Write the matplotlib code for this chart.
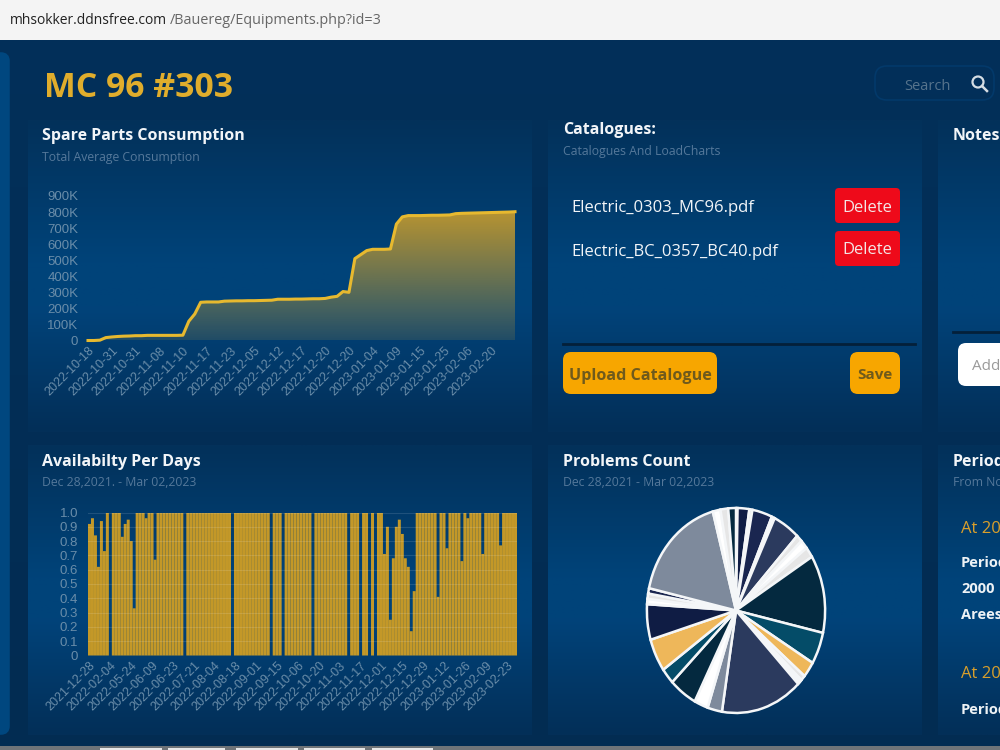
import numpy as np
import matplotlib
matplotlib.use("Agg")
import matplotlib.pyplot as plt
from matplotlib.colors import LinearSegmentedColormap
from matplotlib.patches import FancyBboxPatch, Rectangle, Circle

plt.rcParams['font.family'] = ['Open Sans', 'DejaVu Sans']

# spare parts, in thousands
spare_values = [0, 0, 2, 18, 22, 25, 27, 28, 30, 30, 32, 32, 32, 32, 32, 32, 33, 120,
                165, 238, 240, 240, 240, 245, 246, 247, 247, 248, 248, 249, 250, 251,
                257, 257, 257, 258, 258, 259, 260, 260, 262, 270, 275, 305, 300, 510,
                535, 560, 568, 568, 568, 570, 725, 770, 778, 778, 778, 779, 780, 780,
                781, 782, 790, 792, 793, 794, 795, 796, 797, 798, 799, 800, 802]
spare_labels = ['2022-10-18', '2022-10-31', '2022-10-31', '2022-11-08', '2022-11-10',
                '2022-11-17', '2022-11-23', '2022-12-05', '2022-12-12', '2022-12-17',
                '2022-12-20', '2022-12-20', '2023-01-04', '2023-01-09', '2023-01-15',
                '2023-01-25', '2023-02-06', '2023-02-20']
spare_yticks = [0, 100, 200, 300, 400, 500, 600, 700, 800, 900]

avail_values = [.92, .96, .84, .62, .94, .73, 1, 0, 1, 1, 1, .83,
                .92, .95, .80, .33, 1, 1, 1, .96, 1, 1, .67, 1,
                1, 1, 1, 1, 1, 1, 1, 1, 0, 1, 1, 1,
                1, 1, 1, 1, 1, 1, 1, 1, 1, 1, 1, 1,
                0, 1, 1, 1, 1, 1, 1, 1, 1, 1, 1, 1,
                1, 0, 1, 1, 1, 0, 1, 1, 1, 1, 1, 1,
                1, 1, 1, 0, 1, 1, 1, 1, 1, 1, 1, 1,
                1, 1, 1, 0, 1, 1, 1, 0, 1, 1, 0, 1,
                0, 1, 1, .71, .9, .25, .68, .9, .95, .85, .68, .62,
                .17, .45, 1, 1, 1, 1, 1, 1, 1, .41, 1, 1,
                .75, 1, 1, 1, 1, .66, 1, .96, 1, 1, 1, 1,
                .71, 1, 1, 1, 1, 1, .77, 1, 1, 1, 1, 1]
avail_labels = ['2021-12-28', '2022-02-04', '2022-05-24', '2022-06-09', '2022-06-23',
                '2022-07-21', '2022-08-04', '2022-08-18', '2022-09-01', '2022-09-15',
                '2022-10-06', '2022-10-20', '2022-11-03', '2022-11-17', '2022-12-01',
                '2022-12-15', '2022-12-29', '2023-01-12', '2023-01-26', '2023-02-09',
                '2023-02-23']
avail_yticks = [0, .1, .2, .3, .4, .5, .6, .7, .8, .9, 1.0]
avail_ylabels = ['0', '0.1', '0.2', '0.3', '0.4', '0.5', '0.6', '0.7', '0.8', '0.9', '1.0']

problem_counts = [1, 7.6, 2, 13, 2, 17.5, 4, 5, 6, 44, 18, 9, 3, 1.5, 1.5, 53, 9.4, 9,
                  18, 9, 18.6, 20, 3, 3, 3, 62, 5, 5, 5]
problem_colors = ['#ffffff', '#0f1c44', '#e6e6e6', '#1a2650', '#ffffff', '#2b3a5e',
                  '#e6e6e6', '#ffffff', '#e6e6e6', '#04293f', '#044c68', '#eeb75a',
                  '#e6e6e6', '#9aa3b0', '#e6e6e6', '#2b3a5e', '#7e8a9c', '#ffffff',
                  '#04293f', '#044c68', '#eeb75a', '#0f1c44', '#ffffff', '#e6e6e6',
                  '#1a2650', '#7e8a9c', '#ffffff', '#e6e6e6', '#04293f']

W, H = 1000, 750
GOLD = '#e0ad2c'
TICK = '#6a8da9'


def px_axes(x0, y0, x1, y1):
    # axes placed by pixel box, y counted from the top
    return fig.add_axes([x0 / W, 1 - y1 / H, (x1 - x0) / W, (y1 - y0) / H])


fig = plt.figure(figsize=(10, 7.5), dpi=100, facecolor='#03305a')
bg = fig.add_axes([0, 0, 1, 1])
bg.axis('off')

page = LinearSegmentedColormap.from_list('page', ['#03305a', '#022c52'])
bg.imshow(np.linspace(0, 1, 64).reshape(-1, 1), cmap=page, extent=[0, W, H, 0], aspect='auto')

card = LinearSegmentedColormap.from_list(
    'card', [(0, '#03315a'), (.45, '#004379'), (.6, '#01437a'), (1, '#032f58')])
boxes = [(28, 120, 532, 432), (548, 120, 922, 432), (938, 120, 1000, 432),
         (28, 445, 532, 735), (548, 445, 922, 735), (938, 445, 1000, 735)]
for x0, y0, x1, y1 in boxes:
    bg.imshow(np.linspace(0, 1, 128).reshape(-1, 1), cmap=card,
              extent=[x0, x1, y1, y0], aspect='auto', zorder=1)
bg.set_xlim(0, W)
bg.set_ylim(H, 0)

# browser bar, sidebar, taskbar tabs along the bottom
bg.add_patch(Rectangle((0, 0), W, 40, fc='#f4f4f4', ec='none', zorder=2))
bg.add_patch(Rectangle((0, 746), W, 4, fc='#6f7478', ec='none', zorder=2))
for tx0, tx1 in [(100, 162), (168, 225), (236, 298), (304, 365), (372, 433)]:
    bg.add_patch(Rectangle((tx0, 748), tx1 - tx0, 2, fc='#e8e8e8', ec='none', zorder=2))
bg.add_patch(FancyBboxPatch((-20, 55), 27, 677, boxstyle='round,pad=0,rounding_size=6',
                            fc='#00477f', ec='#00477f', lw=4, zorder=2))
bg.text(10, 20.5, 'mhsokker.ddnsfree.com', fontsize=10, color='#222222', va='center', zorder=3)
bg.text(170, 20.5, '/Bauereg/Equipments.php?id=3', fontsize=10.4, color='#666666', va='center', zorder=3)

bg.text(44, 88, 'MC 96 #303', fontsize=24.3, fontweight='bold', color=GOLD, va='center', zorder=3)

# search box
bg.add_patch(FancyBboxPatch((875, 66), 119, 34, boxstyle='round,pad=0,rounding_size=12',
                            fc='none', ec='#03396a', lw=1.2, zorder=3))
bg.text(904, 86, 'Search', fontsize=10.5, color='#56738c', va='center', zorder=3)
bg.add_patch(Circle((978, 82), 5.5, fc='none', ec='#d5dde4', lw=1.6, zorder=3))
bg.plot([982, 987], [86, 91], color='#d5dde4', lw=1.8, zorder=3)


def card_title(x, y, title, sub=None):
    bg.text(x, y + 1.5, title, fontsize=11.5, fontweight='bold', color='#f2f5f8', va='center', zorder=3)
    if sub:
        bg.text(x, y + 23, sub, fontsize=8.8, color='#55789a', va='center', zorder=3)


card_title(42, 134, 'Spare Parts Consumption', 'Total Average Consumption')
card_title(563, 129, 'Catalogues:', 'Catalogues And LoadCharts')
card_title(953, 134, 'Notes')
card_title(42, 460, 'Availabilty Per Days', 'Dec 28,2021. - Mar 02,2023')
card_title(563, 460, 'Problems Count', 'Dec 28,2021 - Mar 02,2023')
card_title(953, 460, 'Periodic', 'From Now')

# catalogue list and buttons
for y, name in [(207, 'Electric_0303_MC96.pdf'), (250, 'Electric_BC_0357_BC40.pdf')]:
    bg.text(571, y + 1.5, name, fontsize=12, color='#f2f5f8', va='center', zorder=3)
    bg.add_patch(FancyBboxPatch((835, y - 19), 65, 35, boxstyle='round,pad=0,rounding_size=4',
                                fc='#ee0a1a', ec='none', zorder=3))
    bg.text(867.5, y + 0.5, 'Delete', fontsize=12, color='#f4e6e6', ha='center', va='center', zorder=4)

bg.plot([563, 915], [344, 344], color='#04203a', lw=2, zorder=3)
bg.plot([953, 1000], [332, 332], color='#04203a', lw=2, zorder=3)
bg.add_patch(FancyBboxPatch((563, 352), 154, 42, boxstyle='round,pad=0,rounding_size=8',
                            fc='#f7a600', ec='none', zorder=3))
bg.text(640, 376, 'Upload Catalogue', fontsize=11.6, fontweight='bold', color='#6f5a1c',
        ha='center', va='center', zorder=4)
bg.add_patch(FancyBboxPatch((850, 352), 50, 42, boxstyle='round,pad=0,rounding_size=8',
                            fc='#f7a600', ec='none', zorder=3))
bg.text(875, 375, 'Save', fontsize=11, fontweight='bold', color='#6f5a1c',
        ha='center', va='center', zorder=4)
bg.add_patch(FancyBboxPatch((958, 343), 70, 43, boxstyle='round,pad=0,rounding_size=8',
                            fc='#ffffff', ec='none', zorder=3))
bg.text(972, 367, 'Add', fontsize=11, color='#9a9a9a', va='center', zorder=4)

# periodic list, cut by the window edge as in the screenshot
bg.text(961, 529, 'At 2022', fontsize=12, color='#d99f2b', va='center', zorder=3)
bg.text(961, 563, 'Period', fontsize=10.5, fontweight='bold', color='#eef2f5', va='center', zorder=3)
bg.text(961, 589, '2000', fontsize=10.5, fontweight='bold', color='#eef2f5', va='center', zorder=3)
bg.text(961, 615, 'Arees', fontsize=10.5, fontweight='bold', color='#eef2f5', va='center', zorder=3)
bg.text(961, 674, 'At 2022', fontsize=12, color='#d99f2b', va='center', zorder=3)
bg.text(961, 710, 'Period', fontsize=10.5, fontweight='bold', color='#eef2f5', va='center', zorder=3)


def style_axes(ax, labels, step):
    ax.patch.set_alpha(0)
    for s in ax.spines.values():
        s.set_visible(False)
    ax.set_xticks(np.arange(len(labels)) * step)
    ax.set_xticklabels(labels, rotation=45, ha='right', rotation_mode='anchor',
                       fontsize=9, family='Liberation Sans', color=TICK)
    ax.tick_params(length=0, pad=3)
    ax.tick_params(axis='y', labelsize=9.5, labelcolor=TICK, pad=7)
    for t in ax.get_yticklabels():
        t.set_family('Liberation Sans')


# area chart
ax1 = px_axes(88, 196, 515, 340.5)
x = np.arange(len(spare_values))
ax1.plot(x, spare_values, color='#e7b92f', lw=2.2, solid_joinstyle='round', zorder=4, clip_on=False)
area = ax1.fill_between(x, spare_values, 0, color='none')
fade = np.zeros((256, 1, 4))
fade[:, 0, 0] = .84
fade[:, 0, 1] = .64
fade[:, 0, 2] = .16
fade[:, 0, 3] = np.linspace(.95, .15, 256)
img = ax1.imshow(fade, extent=[0, len(spare_values) - 1, 0, 900], origin='upper', aspect='auto', zorder=2)
img.set_clip_path(area.get_paths()[0], transform=ax1.transData)
ax1.set_xlim(0, len(spare_values) - 1)
ax1.set_ylim(0, 900)
ax1.set_yticks(spare_yticks)
ax1.set_yticklabels([f'{v}K' if v else '0' for v in spare_yticks])
style_axes(ax1, spare_labels, 4)

# availability bars, snap off so the seams stay faint and even
ax2 = px_axes(88, 512.5, 517, 655.5)
ax2.bar(np.arange(len(avail_values)), avail_values, width=1, color='#c39828', snap=False, zorder=2)
ax2.set_xlim(-.5, len(avail_values) - .5)
ax2.set_ylim(0, 1)
ax2.set_yticks(avail_yticks)
ax2.set_yticklabels(avail_ylabels)
ax2.grid(axis='y', color='#ffffff', alpha=.12, lw=.8, zorder=3)
ax2.set_axisbelow(False)
style_axes(ax2, avail_labels, 7)

# pie is stretched in the page, so it stays an ellipse
ax3 = px_axes(646, 507, 826, 714)
ax3.pie(problem_counts, colors=problem_colors, startangle=90, counterclock=False, radius=1,
        wedgeprops={'edgecolor': '#f4f6f8', 'linewidth': 1.8})
ax3.set_aspect('auto')
ax3.set_xlim(-1.01, 1.01)
ax3.set_ylim(-1.01, 1.01)
ax3.patch.set_alpha(0)

fig.savefig('out.png', dpi=100, facecolor=fig.get_facecolor())
